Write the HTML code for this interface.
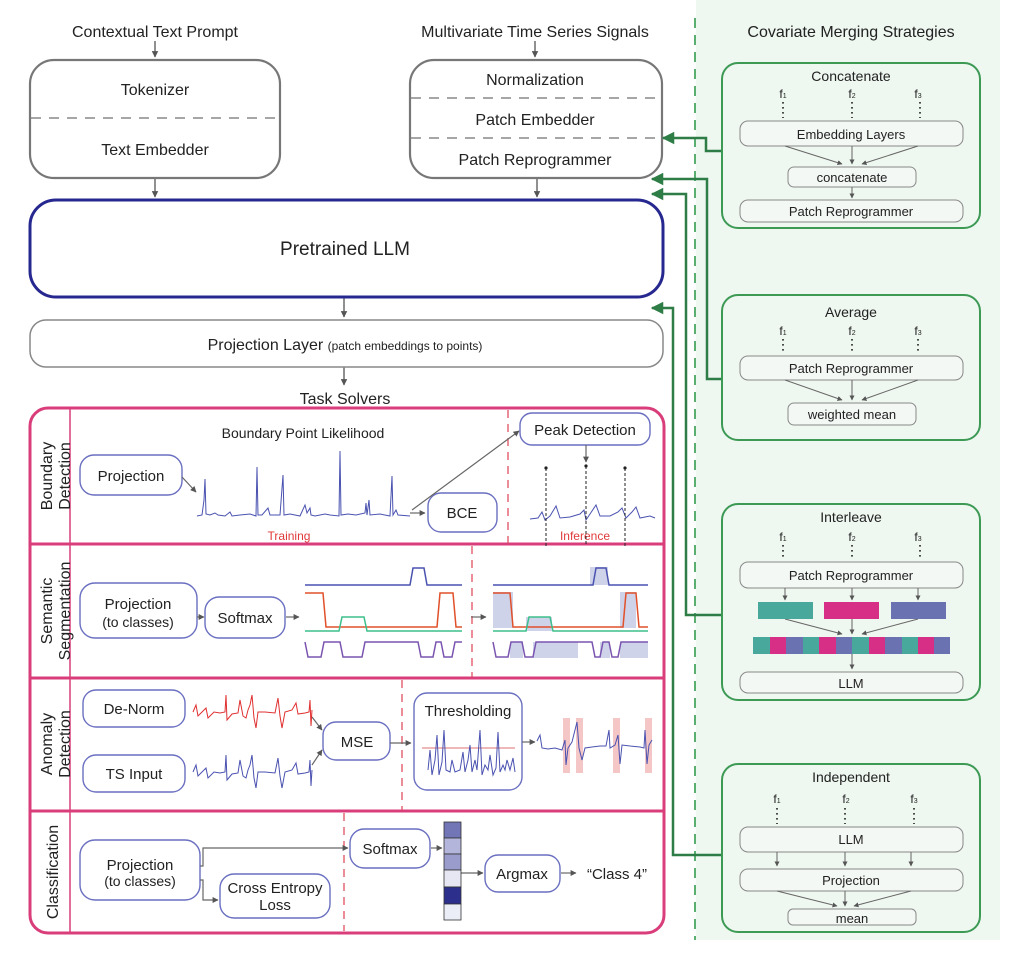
<!DOCTYPE html>
<html><head><meta charset="utf-8"><style>
html,body{margin:0;padding:0;background:#fff;}
svg{display:block;font-family:"Liberation Sans",Arial,sans-serif;}
</style></head><body>
<svg width="1010" height="956" viewBox="0 0 1010 956" xmlns="http://www.w3.org/2000/svg">
<defs>
<marker id="ag" viewBox="0 0 10 10" refX="9" refY="5" markerWidth="5" markerHeight="5" orient="auto"><path d="M0,0 L10,5 L0,10 z" fill="#555"/></marker>
<marker id="agr" viewBox="0 0 10 10" refX="9" refY="5" markerWidth="5" markerHeight="5" orient="auto"><path d="M0,0 L10,5 L0,10 z" fill="#2e7d46"/></marker>
</defs>

<!-- right panel background -->
<rect x="696" y="0" width="304" height="940" fill="#eef7f0"/>
<line x1="695" y1="18" x2="695" y2="940" stroke="#5aae70" stroke-width="2" stroke-dasharray="10,7"/>

<g font-size="16" fill="#222" text-anchor="middle">
<text x="155" y="37">Contextual Text Prompt</text>
<text x="535" y="37">Multivariate Time Series Signals</text>
<text x="851" y="37">Covariate Merging Strategies</text>
</g>

<g stroke="#555" stroke-width="1.3" marker-end="url(#ag)" fill="none">
<line x1="155" y1="41" x2="155" y2="57"/>
<line x1="535" y1="41" x2="535" y2="57"/>
<line x1="155" y1="178" x2="155" y2="197"/>
<line x1="537" y1="178" x2="537" y2="197"/>
<line x1="344" y1="297" x2="344" y2="317"/>
<line x1="344" y1="367" x2="344" y2="385"/>
</g>

<!-- text box -->
<rect x="30" y="60" width="250" height="118" rx="24" fill="#fff" stroke="#777" stroke-width="2.2"/>
<line x1="31" y1="118" x2="279" y2="118" stroke="#888" stroke-width="1.5" stroke-dasharray="10,8"/>
<!-- ts box -->
<rect x="410" y="60" width="252" height="118" rx="24" fill="#fff" stroke="#777" stroke-width="2.2"/>
<line x1="411" y1="98" x2="661" y2="98" stroke="#888" stroke-width="1.5" stroke-dasharray="10,8"/>
<line x1="411" y1="138" x2="661" y2="138" stroke="#888" stroke-width="1.5" stroke-dasharray="10,8"/>
<g font-size="16" fill="#222" text-anchor="middle">
<text x="155" y="95">Tokenizer</text>
<text x="155" y="155">Text Embedder</text>
<text x="535" y="85">Normalization</text>
<text x="535" y="125">Patch Embedder</text>
<text x="535" y="165">Patch Reprogrammer</text>
</g>

<rect x="30" y="200" width="633" height="97" rx="26" fill="#fff" stroke="#27288f" stroke-width="3"/>
<text x="345" y="255" font-size="19" fill="#222" text-anchor="middle">Pretrained LLM</text>

<rect x="30" y="320" width="633" height="47" rx="16" fill="#fff" stroke="#888" stroke-width="1.5"/>
<text x="345" y="350" font-size="16" fill="#222" text-anchor="middle">Projection Layer <tspan font-size="12">(patch embeddings to points)</tspan></text>
<text x="345" y="404" font-size="16" fill="#222" text-anchor="middle">Task Solvers</text>

<!-- green connectors -->
<g stroke="#2e7d46" stroke-width="2.5" fill="none" marker-end="url(#agr)">
<polyline points="722,151 706,151 706,138 663,138"/>
<polyline points="722,379 707,379 707,179 652,179"/>
<polyline points="722,615 686,615 686,194 652,194"/>
<polyline points="722,855 673,855 673,308 652,308"/>
</g>

<!-- Task solvers -->
<rect x="30" y="408" width="634" height="525" rx="18" fill="#fff" stroke="#d93e7a" stroke-width="3"/>
<g stroke="#d93e7a">
<line x1="30" y1="544" x2="664" y2="544" stroke-width="3"/>
<line x1="30" y1="678" x2="664" y2="678" stroke-width="3"/>
<line x1="30" y1="811" x2="664" y2="811" stroke-width="3"/>
<line x1="70" y1="408" x2="70" y2="933" stroke-width="1.5"/>
</g>
<g font-size="16" fill="#222" text-anchor="middle">
<text transform="translate(52,476) rotate(-90)">Boundary<tspan x="0" dy="18">Detection</tspan></text>
<text transform="translate(52,611) rotate(-90)">Semantic<tspan x="0" dy="18">Segmentation</tspan></text>
<text transform="translate(52,744) rotate(-90)">Anomaly<tspan x="0" dy="18">Detection</tspan></text>
<text transform="translate(58,872) rotate(-90)">Classification</text>
</g>
<g stroke="#e05060" stroke-width="1.3" stroke-dasharray="8,6">
<line x1="508" y1="410" x2="508" y2="543"/>
<line x1="472" y1="546" x2="472" y2="677"/>
<line x1="402" y1="680" x2="402" y2="810"/>
<line x1="344" y1="813" x2="344" y2="931"/>
</g>

<g fill="#fff" stroke="#6a6fc0" stroke-width="1.4">
<rect x="80" y="455" width="102" height="40" rx="14"/>
<rect x="428" y="493" width="69" height="39" rx="13"/>
<rect x="520" y="413" width="130" height="32" rx="12"/>
<rect x="80" y="583" width="117" height="55" rx="15"/>
<rect x="205" y="597" width="80" height="41" rx="14"/>
<rect x="83" y="690" width="102" height="37" rx="13"/>
<rect x="83" y="755" width="102" height="37" rx="13"/>
<rect x="323" y="722" width="67" height="38" rx="13"/>
<rect x="414" y="693" width="108" height="97" rx="13"/>
<rect x="80" y="840" width="120" height="60" rx="15"/>
<rect x="220" y="874" width="110" height="44" rx="14"/>
<rect x="350" y="829" width="80" height="39" rx="14"/>
<rect x="485" y="855" width="75" height="37" rx="13"/>
</g>
<g font-size="15" fill="#222" text-anchor="middle">
<text x="131" y="481">Projection</text>
<text x="462" y="518">BCE</text>
<text x="585" y="435">Peak Detection</text>
<text x="303" y="438" font-size="14">Boundary Point Likelihood</text>
<text x="289" y="540" font-size="12" fill="#e03a3a">Training</text>
<text x="585" y="540" font-size="12" fill="#e03a3a">Inference</text>
<text x="138" y="609">Projection</text>
<text x="138" y="627" font-size="14">(to classes)</text>
<text x="245" y="623">Softmax</text>
<text x="134" y="714">De-Norm</text>
<text x="134" y="779">TS Input</text>
<text x="357" y="747">MSE</text>
<text x="468" y="716">Thresholding</text>
<text x="140" y="870">Projection</text>
<text x="140" y="886" font-size="14">(to classes)</text>
<text x="275" y="893">Cross Entropy</text>
<text x="275" y="910">Loss</text>
<text x="390" y="854">Softmax</text>
<text x="522" y="879">Argmax</text>
<text x="617" y="879">“Class 4”</text>
</g>

<!-- gray arrows in solvers -->
<g stroke="#666" stroke-width="1.2" fill="none" marker-end="url(#ag)">
<line x1="182" y1="477" x2="196" y2="492"/>
<line x1="410" y1="513" x2="425" y2="513"/>
<line x1="412" y1="510" x2="519" y2="431"/>
<line x1="586" y1="445" x2="586" y2="462"/>
<line x1="197" y1="617" x2="204" y2="617"/>
<line x1="286" y1="617" x2="299" y2="617"/>
<line x1="471" y1="617" x2="486" y2="617"/>
<line x1="312" y1="717" x2="322" y2="730"/>
<line x1="312" y1="765" x2="322" y2="750"/>
<line x1="390" y1="743" x2="411" y2="743"/>
<line x1="522" y1="742" x2="535" y2="742"/>
<polyline points="200,866 203,866 203,848 348,848"/>
<polyline points="200,880 203,880 203,900 218,900"/>
<line x1="431" y1="848" x2="442" y2="848"/>
<line x1="461" y1="873" x2="483" y2="873"/>
<line x1="561" y1="873" x2="576" y2="873"/>
</g>

<!-- boundary signal -->
<polyline fill="none" stroke="#4a52b0" stroke-width="1" points="197,516 202,515 204,500 205,479 206,514 210,515 215,513 218,515 225,516 230,512 232,516 240,515 250,514 256,516 257,467 258,515 262,515 268,508 270,515 280,515 283,475 284,515 290,514 300,516 305,505 307,513 310,508 311,515 315,516 325,514 330,515 339,516 340,451 341,515 348,514 356,515 365,513 366,503 367,515 369,500 370,515 380,514 390,516 392,476 393,515 396,510 398,515 410,516"/>
<!-- inference signal -->
<polyline fill="none" stroke="#4a52b0" stroke-width="1" points="530,519 538,518 542,512 545,520 550,516 556,506 560,518 570,517 580,514 584,510 586,520 590,514 596,505 600,516 610,516 618,512 622,508 626,518 632,512 636,507 640,518 650,516 655,518"/>
<g stroke="#222" stroke-width="1" stroke-dasharray="3,2">
<line x1="546" y1="468" x2="546" y2="546"/>
<line x1="586" y1="466" x2="586" y2="546"/>
<line x1="625" y1="468" x2="625" y2="546"/>
</g>
<g fill="#222"><circle cx="546" cy="468" r="1.6"/><circle cx="586" cy="466" r="1.6"/><circle cx="625" cy="468" r="1.6"/></g>

<!-- semantic seg col1 -->
<g fill="none" stroke-width="1.5">
<polyline stroke="#4a52b0" points="305,585 410,585 413,568 424,568 427,585 462,585"/>
<polyline stroke="#e0502a" points="305,593 323,593 326,627 437,627 440,593 453,593 456,627 462,627"/>
<polyline stroke="#3cbf8a" points="305,631 339,631 342,617 364,617 367,631 462,631"/>
<polyline stroke="#7a55b0" points="305,642 308,657 321,657 324,642 340,642 343,657 362,657 365,642 418,642 421,657 433,657 436,642 441,642 444,657 452,657 455,642 462,642"/>
</g>
<!-- col2 shaded -->
<g fill="#cfd3ea">
<rect x="590" y="567" width="18" height="18"/>
<rect x="493" y="592" width="20" height="36"/>
<rect x="620" y="592" width="16" height="36"/>
<rect x="526" y="617" width="26" height="14"/>
<rect x="510" y="642" width="13" height="16"/>
<rect x="533" y="642" width="45" height="16"/>
<rect x="600" y="642" width="10" height="16"/>
<rect x="620" y="642" width="28" height="16"/>
</g>
<g fill="none" stroke-width="1.5">
<polyline stroke="#4a52b0" points="493,585 593,585 596,568 606,568 609,585 648,585"/>
<polyline stroke="#e0502a" points="493,593 510,593 513,627 623,627 626,593 636,593 639,627 648,627"/>
<polyline stroke="#3cbf8a" points="493,631 526,631 529,617 550,617 553,631 648,631"/>
<polyline stroke="#7a55b0" points="493,642 496,657 508,657 511,642 522,642 525,657 533,657 536,642 592,642 595,657 600,657 603,642 609,642 612,657 618,657 621,642 648,642"/>
</g>

<!-- anomaly signals -->
<polyline fill="none" stroke="#e03030" stroke-width="1" points="193,712 196,705 198,716 202,712 206,708 208,718 214,712 220,713 225,712 226,695 227,720 232,714 238,713 240,700 243,716 246,718 248,710 250,705 252,695 254,718 256,728 258,712 265,712 275,713 278,698 280,716 282,728 285,712 292,710 296,703 298,714 305,713 309,712 310,700 311,726 312,710"/>
<polyline fill="none" stroke="#4a52b0" stroke-width="1" points="193,772 196,765 198,776 202,772 206,768 208,778 214,772 220,773 225,772 226,755 227,780 232,774 238,773 240,760 243,776 246,778 248,770 250,765 252,755 254,778 256,788 258,772 265,772 275,773 278,758 280,776 282,788 285,772 292,770 296,763 298,774 305,773 309,772 310,760 311,786 312,770"/>
<line x1="422" y1="748" x2="515" y2="748" stroke="#e8a0a0" stroke-width="1.5"/>
<polyline fill="none" stroke="#4a52b0" stroke-width="1" points="428,770 430,750 432,775 435,760 437,735 439,775 442,762 444,730 446,770 450,772 452,760 455,772 460,770 463,752 465,772 468,760 470,745 472,772 475,760 477,770 480,730 482,775 485,765 488,770 490,755 493,775 496,768 498,732 500,772 503,765 505,770 507,760 510,770 513,758 515,772"/>
<g fill="#f4c6c6">
<rect x="563" y="718" width="7" height="55"/>
<rect x="576" y="718" width="7" height="55"/>
<rect x="613" y="718" width="7" height="55"/>
<rect x="645" y="718" width="7" height="55"/>
</g>
<polyline fill="none" stroke="#4a52b0" stroke-width="1" points="537,741 540,735 542,748 548,749 555,748 562,750 565,740 566,765 568,748 572,742 575,730 577,722 579,748 582,760 585,748 592,747 600,746 606,746 609,730 610,748 615,745 618,735 620,764 622,745 630,746 640,747 644,748 645,730 647,764 649,745 652,740"/>

<!-- prob bar -->
<g stroke="#333" stroke-width="0.8">
<rect x="444" y="822" width="17" height="16" fill="#7376b6"/>
<rect x="444" y="838" width="17" height="16" fill="#b3b6da"/>
<rect x="444" y="854" width="17" height="16" fill="#9a9dcc"/>
<rect x="444" y="870" width="17" height="17" fill="#e6e7f3"/>
<rect x="444" y="887" width="17" height="17" fill="#2c2f8c"/>
<rect x="444" y="904" width="17" height="16" fill="#eceef7"/>
</g>

<!-- right panel boxes -->
<g fill="#eef7f0" stroke="#3d9a55" stroke-width="2">
<rect x="722" y="63" width="258" height="165" rx="16"/>
<rect x="722" y="295" width="258" height="145" rx="16"/>
<rect x="722" y="504" width="258" height="196" rx="16"/>
<rect x="722" y="764" width="258" height="168" rx="16"/>
</g>
<g fill="#f4f8f5" stroke="#888" stroke-width="1">
<rect x="740" y="121" width="223" height="25" rx="8"/>
<rect x="788" y="167" width="128" height="20" rx="6"/>
<rect x="740" y="200" width="223" height="22" rx="8"/>
<rect x="740" y="356" width="223" height="24" rx="8"/>
<rect x="788" y="403" width="128" height="22" rx="6"/>
<rect x="740" y="562" width="223" height="26" rx="8"/>
<rect x="740" y="672" width="223" height="21" rx="8"/>
<rect x="740" y="827" width="223" height="25" rx="8"/>
<rect x="740" y="869" width="223" height="22" rx="8"/>
<rect x="788" y="909" width="128" height="16" rx="5"/>
</g>
<g font-size="14" fill="#222" text-anchor="middle">
<text x="851" y="81">Concatenate</text>
<text x="851" y="139" font-size="13">Embedding Layers</text>
<text x="852" y="182" font-size="13">concatenate</text>
<text x="851" y="216" font-size="13">Patch Reprogrammer</text>
<text x="851" y="317">Average</text>
<text x="851" y="373" font-size="13">Patch Reprogrammer</text>
<text x="852" y="419" font-size="13">weighted mean</text>
<text x="851" y="522">Interleave</text>
<text x="851" y="580" font-size="13">Patch Reprogrammer</text>
<text x="851" y="688" font-size="13">LLM</text>
<text x="851" y="782">Independent</text>
<text x="851" y="844" font-size="13">LLM</text>
<text x="851" y="885" font-size="13">Projection</text>
<text x="852" y="923" font-size="13">mean</text>
</g>
<!-- f labels + dots -->
<g font-size="12" fill="#222" text-anchor="middle">
<text x="783" y="98">f<tspan font-size="7">1</tspan></text><text x="852" y="98">f<tspan font-size="7">2</tspan></text><text x="918" y="98">f<tspan font-size="7">3</tspan></text>
<text x="783" y="335">f<tspan font-size="7">1</tspan></text><text x="852" y="335">f<tspan font-size="7">2</tspan></text><text x="918" y="335">f<tspan font-size="7">3</tspan></text>
<text x="783" y="541">f<tspan font-size="7">1</tspan></text><text x="852" y="541">f<tspan font-size="7">2</tspan></text><text x="918" y="541">f<tspan font-size="7">3</tspan></text>
<text x="777" y="803">f<tspan font-size="7">1</tspan></text><text x="846" y="803">f<tspan font-size="7">2</tspan></text><text x="914" y="803">f<tspan font-size="7">3</tspan></text>
</g>
<g stroke="#222" stroke-width="1.6" stroke-dasharray="1.6,3.4">
<line x1="783" y1="102" x2="783" y2="118"/><line x1="852" y1="102" x2="852" y2="118"/><line x1="920" y1="102" x2="920" y2="118"/>
<line x1="783" y1="339" x2="783" y2="353"/><line x1="852" y1="339" x2="852" y2="353"/><line x1="918" y1="339" x2="918" y2="353"/>
<line x1="783" y1="545" x2="783" y2="559"/><line x1="852" y1="545" x2="852" y2="559"/><line x1="920" y1="545" x2="920" y2="559"/>
<line x1="777" y1="808" x2="777" y2="824"/><line x1="845" y1="808" x2="845" y2="824"/><line x1="914" y1="808" x2="914" y2="824"/>
</g>
<g stroke="#666" stroke-width="1" fill="none" marker-end="url(#ag)">
<line x1="785" y1="146" x2="842" y2="164"/><line x1="852" y1="146" x2="852" y2="164"/><line x1="918" y1="146" x2="862" y2="164"/>
<line x1="852" y1="187" x2="852" y2="198"/>
<line x1="785" y1="380" x2="842" y2="400"/><line x1="852" y1="380" x2="852" y2="400"/><line x1="918" y1="380" x2="862" y2="400"/>
<line x1="785" y1="588" x2="785" y2="600"/><line x1="852" y1="588" x2="852" y2="600"/><line x1="918" y1="588" x2="918" y2="600"/>
<line x1="785" y1="619" x2="842" y2="634"/><line x1="852" y1="619" x2="852" y2="634"/><line x1="918" y1="619" x2="862" y2="634"/>
<line x1="852" y1="654" x2="852" y2="669"/>
<line x1="777" y1="852" x2="777" y2="866"/><line x1="845" y1="852" x2="845" y2="866"/><line x1="911" y1="852" x2="911" y2="866"/>
<line x1="777" y1="891" x2="837" y2="906"/><line x1="845" y1="891" x2="845" y2="906"/><line x1="911" y1="891" x2="854" y2="906"/>
</g>
<g>
<rect x="758" y="602" width="55" height="17" fill="#48a89c"/>
<rect x="824" y="602" width="55" height="17" fill="#d82f86"/>
<rect x="891" y="602" width="55" height="17" fill="#6a72b2"/>
<rect x="753" y="637" width="17" height="17" fill="#48a89c"/>
<rect x="770" y="637" width="16" height="17" fill="#d82f86"/>
<rect x="786" y="637" width="17" height="17" fill="#6a72b2"/>
<rect x="803" y="637" width="16" height="17" fill="#48a89c"/>
<rect x="819" y="637" width="17" height="17" fill="#d82f86"/>
<rect x="836" y="637" width="16" height="17" fill="#6a72b2"/>
<rect x="852" y="637" width="17" height="17" fill="#48a89c"/>
<rect x="869" y="637" width="16" height="17" fill="#d82f86"/>
<rect x="885" y="637" width="17" height="17" fill="#6a72b2"/>
<rect x="902" y="637" width="16" height="17" fill="#48a89c"/>
<rect x="918" y="637" width="16" height="17" fill="#d82f86"/>
<rect x="934" y="637" width="16" height="17" fill="#6a72b2"/>
</g>
</svg>
</body></html>
